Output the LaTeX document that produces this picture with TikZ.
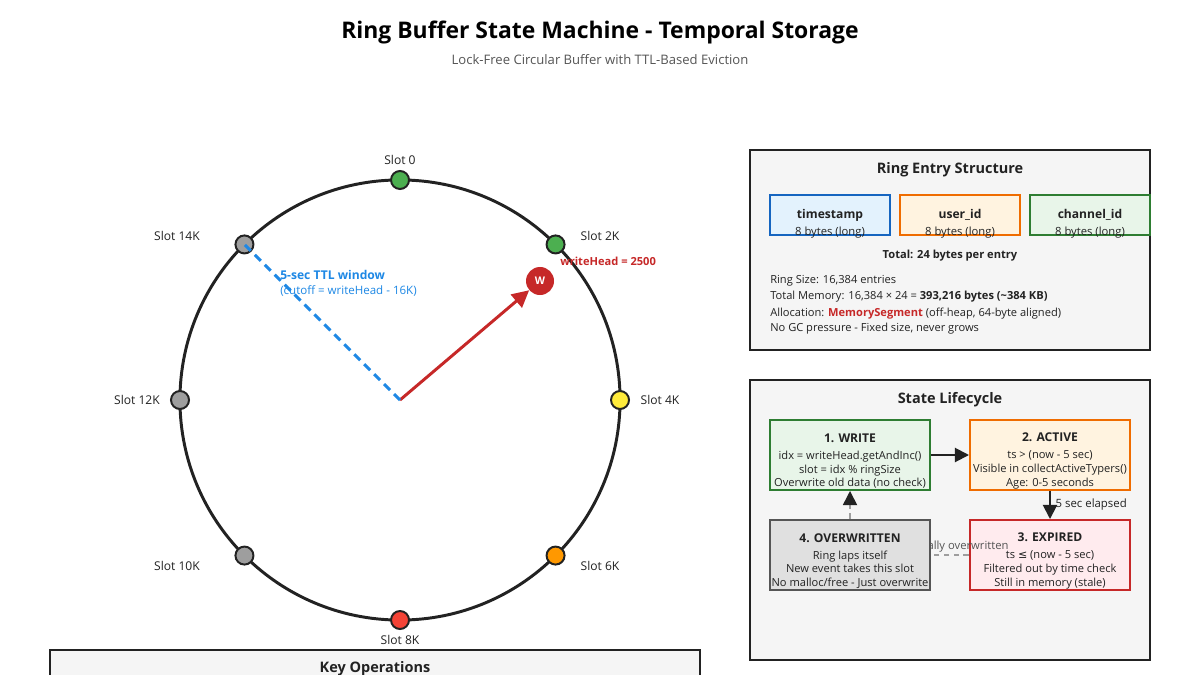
\documentclass[tikz,border=0pt]{standalone}
\usepackage{fontspec}
\setmainfont{Open Sans}
\newfontfamily\symfont{DejaVu Sans}
\usepackage{tikz}
\usetikzlibrary{arrows.meta,positioning,calc}

\definecolor{ink}{HTML}{222222}
\definecolor{panelbg}{HTML}{F5F5F5}
\definecolor{subgray}{HTML}{555555}
\definecolor{slotgreen}{HTML}{4CAF50}
\definecolor{slotyellow}{HTML}{FFEB3B}
\definecolor{slotorange}{HTML}{FF9800}
\definecolor{slotred}{HTML}{F44336}
\definecolor{slotgray}{HTML}{9E9E9E}
\definecolor{headred}{HTML}{C62828}
\definecolor{ttlblue}{HTML}{1E88E5}
\definecolor{blueline}{HTML}{1565C0}
\definecolor{bluefill}{HTML}{E3F2FD}
\definecolor{orangeline}{HTML}{EF6C00}
\definecolor{orangefill}{HTML}{FFF3E0}
\definecolor{greenline}{HTML}{2E7D32}
\definecolor{greenfill}{HTML}{E8F5E9}
\definecolor{redfill}{HTML}{FFEBEE}
\definecolor{grayline}{HTML}{555555}
\definecolor{grayfill}{HTML}{E0E0E0}

\begin{document}
\begin{tikzpicture}[x=0.025cm, y=-0.025cm,
  panel/.style={draw=ink, line width=1.4pt, fill=panelbg},
  paneltitle/.style={font=\fontsize{10.3}{12}\selectfont\bfseries, text=ink},
  dot/.style={circle, draw=ink, line width=1.4pt, minimum size=0.45cm, inner sep=0pt},
  slotlbl/.style={font=\fontsize{8.6}{10}\selectfont, text=ink},
  field/.style={rectangle, line width=1.4pt, minimum width=3cm, minimum height=1cm},
  fieldtxt/.style={align=center, font=\fontsize{8}{11.8}\selectfont, text=ink},
  body/.style={anchor=west, font=\fontsize{7.9}{9}\selectfont, text=ink, inner sep=0pt},
  state/.style={rectangle, line width=1.4pt, minimum width=4cm, minimum height=1.75cm},
  statetxt/.style={align=center, font=\fontsize{7.9}{9.7}\selectfont, text=ink},
  flow/.style={-{Triangle[length=10pt,width=10pt]}, line width=1.4pt, draw=ink},
  lazyflow/.style={-{Triangle[length=10pt,width=10pt,color=ink]}, line width=1.1pt,
    draw=slotgray, dash pattern=on 4pt off 3pt}
]
\fill[white] (0,0) rectangle (1200,675);
\useasboundingbox (0,0) rectangle (1200,675);
\clip (0,0) rectangle (1200,675);

\node[font=\fontsize{16.3}{19}\selectfont\bfseries, text=black] (title) at (600,32)
  {Ring Buffer State Machine - Temporal Storage};
\node[font=\fontsize{9.3}{11}\selectfont, text=subgray] (subtitle) at (600,60)
  {Lock-Free Circular Buffer with TTL-Based Eviction};

% the ring
\coordinate (hub) at (400,400);
\draw[ink, line width=2.1pt] (hub) circle[radius=5.5cm];

\node[circle, fill=headred, minimum size=0.7cm, inner sep=0pt, text=white,
  font=\fontsize{7.5}{9}\selectfont\bfseries] (whead) at (540,281) {W};
\draw[-{Triangle[length=12pt,width=12pt]}, headred, line width=2.1pt] (hub) -- (whead);
\node[anchor=west, font=\fontsize{7.9}{9}\selectfont\bfseries, text=headred, inner sep=0pt]
  (wlabel) at (560,261) {writeHead = 2500};

\foreach \ang/\nm/\col/\txt/\lx/\ly in {
    90/s0/slotgreen/Slot 0/400/160,
    45/s2/slotgreen/Slot 2K/600/236,
    0/s4/slotyellow/Slot 4K/660/400,
    -45/s6/slotorange/Slot 6K/600/566,
    -90/s8/slotred/Slot 8K/400/640,
    -135/s10/slotgray/Slot 10K/177/566,
    180/s12/slotgray/Slot 12K/137/400,
    135/s14/slotgray/Slot 14K/177/236} {
  \node[dot, fill=\col] (slot\nm) at ({400+220*cos(\ang)},{400-220*sin(\ang)}) {};
  \node[slotlbl] (lbl\nm) at (\lx,\ly) {\txt};
}

\draw[ttlblue, line width=2.1pt, dash pattern=on 6pt off 4pt] (hub) -- (slots14.center);
\node[anchor=west, font=\fontsize{8.6}{10}\selectfont\bfseries, text=ttlblue, inner sep=0pt]
  (ttl) at (280,275) {5-sec TTL window};
\node[anchor=west, font=\fontsize{8.2}{9}\selectfont, text=ttlblue, inner sep=0pt]
  (cutoff) at (280,291) {(cutoff = writeHead - 16K)};

% entry layout
\draw[panel] (750,150) rectangle (1150,350);
\node[paneltitle] (entrytitle) at (950,170) {Ring Entry Structure};
\node[field, draw=blueline, fill=bluefill] (ts) at (830,215) {};
\node[field, draw=orangeline, fill=orangefill] (uid) at (960,215) {};
\node[field, draw=greenline, fill=greenfill] (cid) at (1090,215) {};
\node[fieldtxt] (tstxt) at (830,224) {\textbf{\fontsize{8.6}{9}\selectfont timestamp}\\8 bytes (long)};
\node[fieldtxt] (uidtxt) at (960,224) {\textbf{\fontsize{8.6}{9}\selectfont user\_id}\\8 bytes (long)};
\node[fieldtxt] (cidtxt) at (1090,224) {\textbf{\fontsize{8.6}{9}\selectfont channel\_id}\\8 bytes (long)};
\node[font=\fontsize{7.9}{9}\selectfont\bfseries, text=ink] (total) at (950,256)
  {Total: 24 bytes per entry};
\node[body] (ringsize) at (770,281) {Ring Size: 16,384 entries};
\node[body] (totalmem) at (770,297)
  {Total Memory: 16,384 × 24 = \textbf{393,216 bytes (\textasciitilde384 KB)}};
\node[body] (alloc) at (770,314)
  {Allocation: \textcolor{headred}{\textbf{MemorySegment}} (off-heap, 64-byte aligned)};
\node[body] (nogc) at (770,329) {No GC pressure - Fixed size, never grows};

% lifecycle
\draw[panel] (750,380) rectangle (1150,660);
\node[paneltitle] (lifetitle) at (950,400) {State Lifecycle};
\node[state, draw=greenline, fill=greenfill] (write) at (850,455) {};
\node[statetxt] (writetxt) at (850,461) {\textbf{\fontsize{8.6}{10}\selectfont 1. WRITE}\\[2.5pt]
  idx = writeHead.getAndInc()\\slot = idx \% ringSize\\Overwrite old data (no check)};
\node[state, draw=orangeline, fill=orangefill] (active) at (1050,455) {};
\node[statetxt] (activetxt) at (1050,461) {\textbf{\fontsize{8.6}{10}\selectfont 2. ACTIVE}\\[2.5pt]
  ts > (now - 5 sec)\\Visible in collectActiveTypers()\\Age: 0-5 seconds};
\node[state, draw=headred, fill=redfill] (expired) at (1050,555) {};
\node[statetxt] (expiredtxt) at (1050,561) {\textbf{\fontsize{8.6}{10}\selectfont 3. EXPIRED}\\[2.5pt]
  ts {\symfont ≤} (now - 5 sec)\\Filtered out by time check\\Still in memory (stale)};

\coordinate (ovedge) at (930,555);
\draw[slotgray, line width=1.1pt, dash pattern=on 4pt off 3pt] (expired.west) -- (ovedge);
\node[font=\fontsize{8}{9}\selectfont, text=subgray] (evlbl) at (950,547) {Eventually overwritten};

\node[state, draw=grayline, fill=grayfill] (over) at (850,555) {};
\node[statetxt] (overtxt) at (850,561) {\textbf{\fontsize{8.6}{10}\selectfont 4. OVERWRITTEN}\\[2.5pt]
  Ring laps itself\\New event takes this slot\\No malloc/free - Just overwrite};

\draw[flow] (write) -- (active);
\draw[flow] (active) -- node[right, font=\fontsize{8.1}{9}\selectfont, text=ink] (elapsed)
  {5 sec elapsed} (expired);
\draw[lazyflow] (over) -- (write);

% bottom panel
\draw[panel] (50,650) rectangle (700,720);
\node[paneltitle] (keyops) at (375,669) {Key Operations};
\end{tikzpicture}
\end{document}
